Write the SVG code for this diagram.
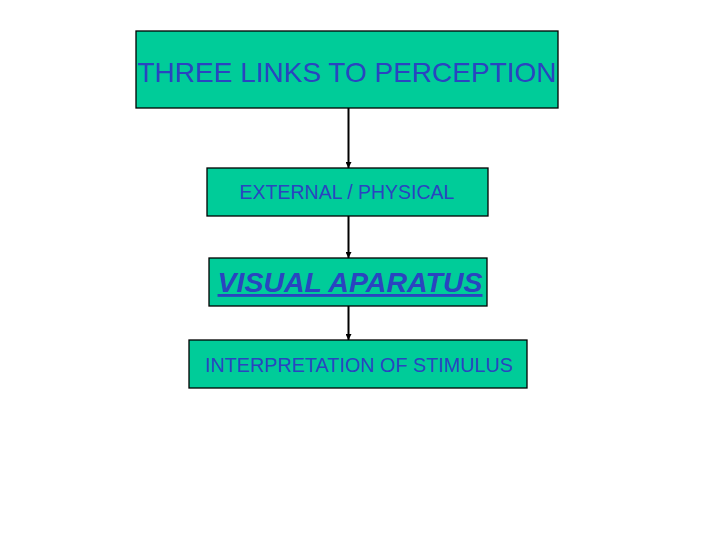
<svg xmlns="http://www.w3.org/2000/svg" width="720" height="540" viewBox="0 0 720 540">
<style>
.box{fill:#00CC99;stroke:#000;stroke-width:1.3}
.t{font-family:"Liberation Sans",Arial,sans-serif;fill:#2A44C0;text-anchor:middle}
.c{stroke:#000;stroke-width:2;fill:none;marker-end:url(#ah)}
</style>
<defs>
<marker id="ah" markerWidth="6" markerHeight="6" refX="6" refY="3" orient="auto" markerUnits="userSpaceOnUse" viewBox="0 0 6 6">
<path d="M0,0 L6,3 L0,6 Z" fill="#000"/>
</marker>
</defs>
<rect width="720" height="540" fill="#fff"/>
<g id="connectors">
<line class="c" x1="348.5" y1="108" x2="348.5" y2="168"/>
<line class="c" x1="348.5" y1="216" x2="348.5" y2="258"/>
<line class="c" x1="348.5" y1="306" x2="348.5" y2="340"/>
</g>
<g id="n1">
<rect class="box" x="136" y="31" width="422" height="77"/>
<text class="t" x="347" y="82" font-size="28">THREE LINKS TO PERCEPTION</text>
</g>
<g id="n2">
<rect class="box" x="207" y="168" width="281" height="48"/>
<text class="t" x="347" y="199" font-size="19.5">EXTERNAL / PHYSICAL</text>
</g>
<g id="n3">
<rect class="box" x="209" y="258" width="278" height="48"/>
<text class="t" x="350" y="292" font-size="28.5" font-weight="bold" font-style="italic" text-decoration="underline">VISUAL APARATUS</text>
</g>
<g id="n4">
<rect class="box" x="189" y="340" width="338" height="48"/>
<text class="t" x="359" y="372" font-size="19.8">INTERPRETATION OF STIMULUS</text>
</g>
</svg>
